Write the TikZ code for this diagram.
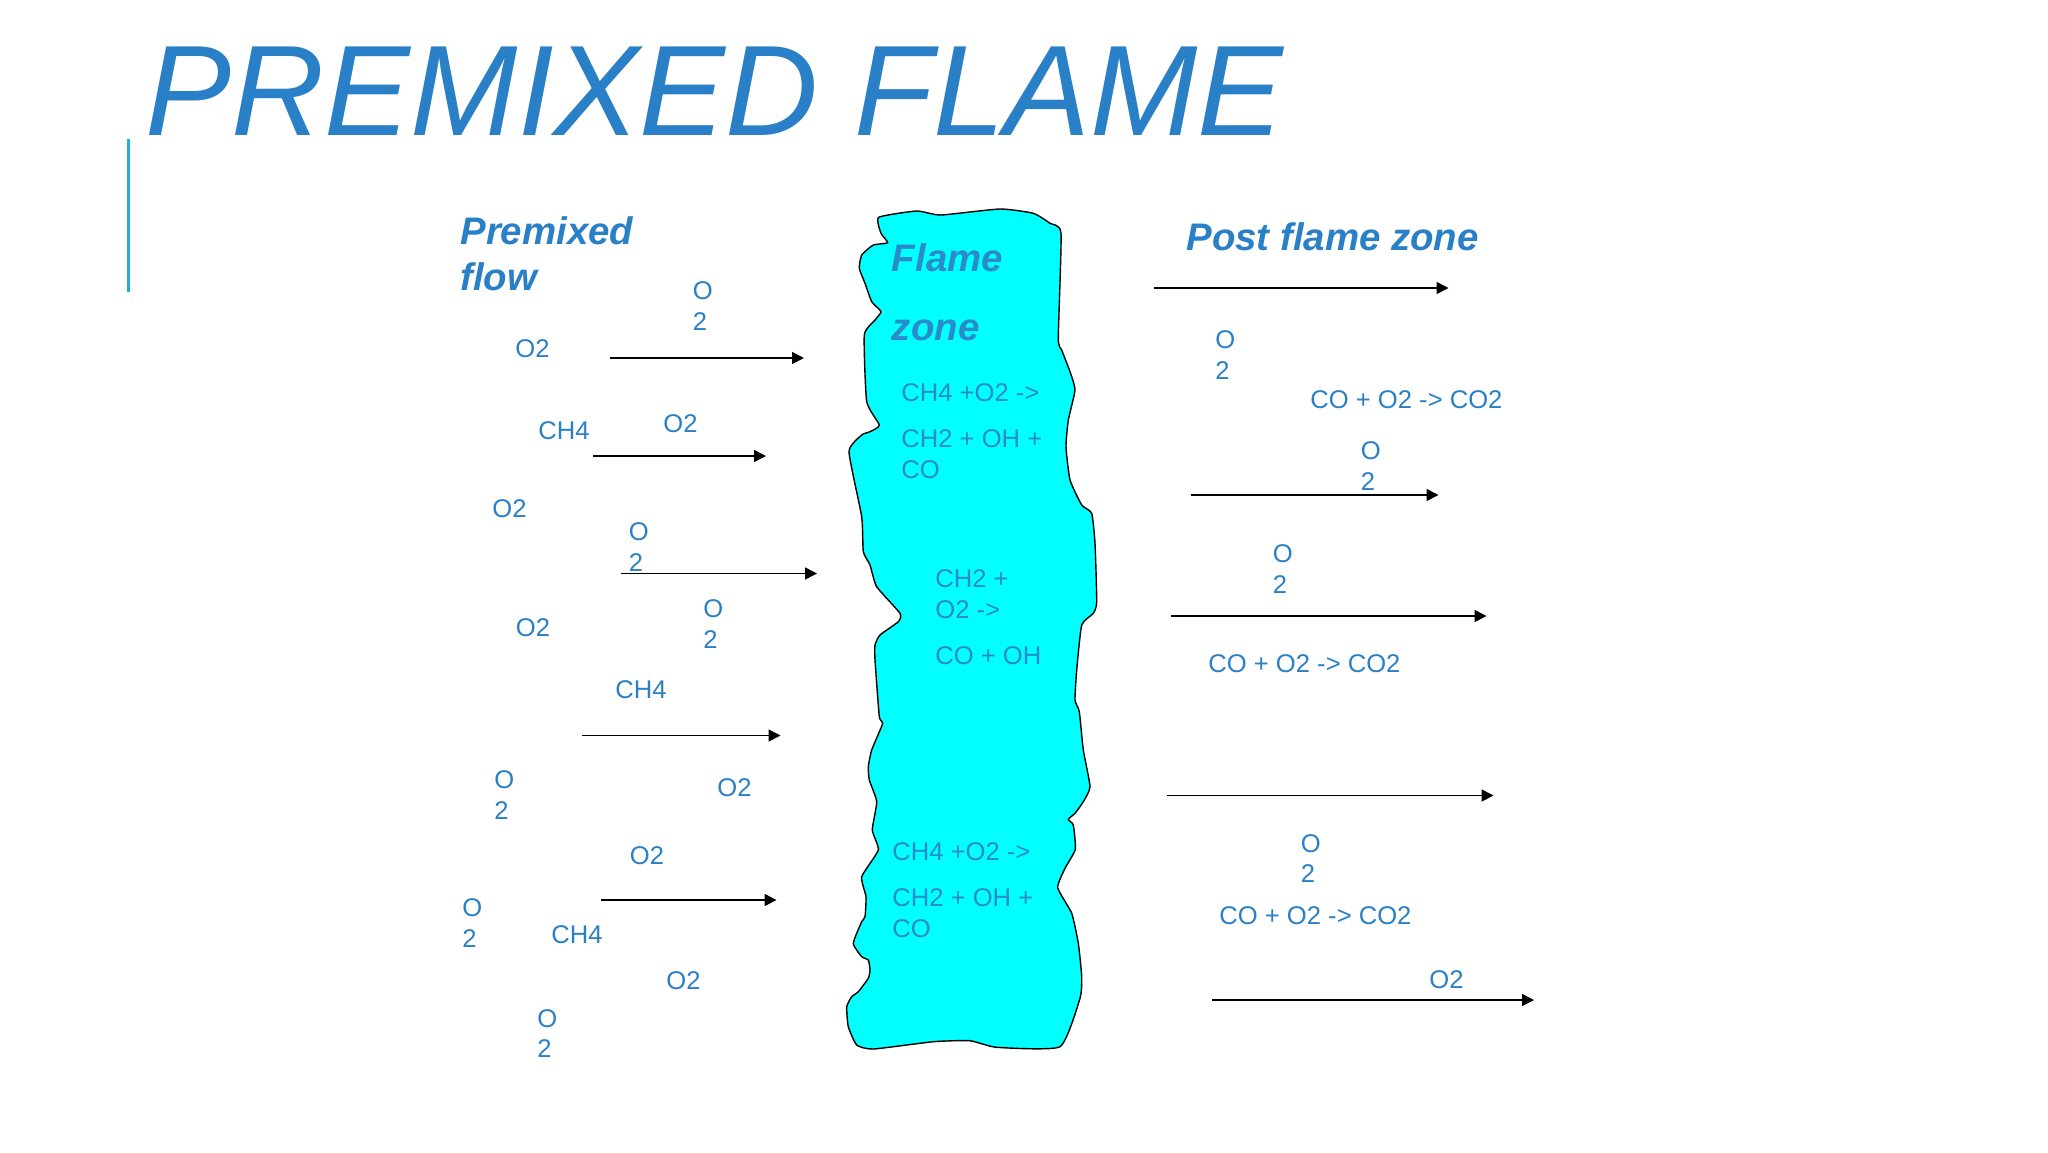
\documentclass[tikz,border=0pt]{standalone}
\usepackage{fontspec}
\setmainfont{Liberation Sans}
\usetikzlibrary{arrows.meta}
\definecolor{slideblue}{HTML}{2A80C6}
\definecolor{flameblue}{HTML}{2A8ACA}
\definecolor{barblue}{HTML}{1CADE4}
\definecolor{flamecyan}{HTML}{00FFFF}
\tikzset{
	lbl/.style={anchor=west, inner sep=0pt, align=left, text=slideblue, font=\fontsize{12.8}{15.3}\selectfont},
	inflame/.style={lbl, text=flameblue},
	head/.style={lbl, font=\fontsize{19.2}{23}\selectfont\bfseries\itshape},
	flow/.style={-{Triangle[length=6pt,width=6pt]}, line width=0.8pt}
}
\begin{document}
\begin{tikzpicture}[x=0.5pt,y=-0.5pt]
	\useasboundingbox (0,0) rectangle (2048,1152);
	\node[anchor=base west, inner sep=0pt, text=slideblue, font=\fontsize{64.4}{70}\selectfont\itshape] (title) at (145.5,135) {PREMIXED FLAME};
	\coordinate (bartop) at (128,139);
	\coordinate (barbot) at (128,292);
	\draw[barblue, line width=1.5pt] (bartop)--(barbot);
	
	% flame front
	\draw[fill=flamecyan, line width=0.7pt, line join=round] plot[smooth cycle, tension=0.3] coordinates {
		(878.7,217.3) (916.7,211) (940.7,215) (1000,209) (1033.3,213.3) (1050,223.3) (1061,233.3)
		(1058.3,338.3) (1061.7,350) (1070,371.7) (1075,390) (1068.3,420) (1066,446.7) (1070,480)
		(1081.7,505) (1091.7,513.3) (1095,543.3) (1096.7,601.7) (1093.3,613.3) (1081.7,625) (1076.7,670)
		(1075,700) (1079.3,711.7) (1083.3,750) (1090,786.7) (1083.3,801.7) (1075,813.3) (1068.3,819.3)
		(1073.3,825) (1075.3,849.3) (1065,868.3) (1057.7,887.7) (1071.7,913.3) (1078.3,943.3)
		(1081.7,976.7) (1080,998.3) (1060,1046.7) (996.7,1047.3) (970,1040.7) (933.3,1041.7)
		(873.3,1049) (856.7,1045) (848.3,1026.7) (846.7,1006.7) (851.7,996.7) (858.3,991.7) (868.3,978.3)
		(870,970) (868.3,960) (861.7,956.7) (853.3,943.3) (861.7,921.7) (865,916.7) (866,896.7)
		(861.7,876.7) (878.3,850) (872.3,830) (876.7,801.7) (869.3,780) (868.3,766.7) (871.7,750)
		(882.7,723.3) (879.3,716.7) (875,660) (875,645) (880,635) (898.3,621.7) (900,613.3) (876.7,586.7)
		(870,565) (863.3,551.7) (861.7,516.7) (849,451.7) (861.7,435) (870,431.7) (879.3,425) (866.7,401.7)
		(864.3,335) (875,320) (881,311.7) (871.7,301.7) (865,283.3) (859.3,268.3) (861.7,255) (873.3,245)
		(887.7,242.7) (881,233.3)};
	
	\node[head] (premixed) at (460,253.5) {Premixed\\flow};
	\node[head] (post) at (1186,237) {Post flame zone};
	\node[head, text=flameblue, font=\fontsize{19.2}{34.5}\selectfont\bfseries\itshape] (flamezone) at (891.5,292.5) {Flame\\zone};
	
	\node[inflame] (reactone) at (901,393) {CH4 +O2 ->};
	\node[inflame] (prodone) at (901,454) {CH2 + OH +\\CO};
	\node[inflame] (reacttwo) at (935,594) {CH2 +\\O2 ->};
	\node[inflame] (prodtwo) at (935,656) {CO + OH};
	\node[inflame] (reactthree) at (892,852) {CH4 +O2 ->};
	\node[inflame] (prodthree) at (892,913) {CH2 + OH +\\CO};
	
	\foreach \n/\x/\y in {a/515/349,b/663/423.5,c/492/508.5,d/515.5/628,e/717/788,f/629.5/855.5,g/666/981,h/1429/980}
		\node[lbl] (otwo\n) at (\x,\y) {O2};
	\foreach \n/\x/\y in {a/692.5/306,b/628.5/547,c/703/624,d/494/795,e/462/923,f/537/1033.5,g/1215/355,h/1360.5/466,i/1272.5/569,j/1300.5/858.5}
		\node[lbl] (obroken\n) at (\x,\y) {O\\2};
	\foreach \n/\x/\y in {a/538/431,b/615/690,c/551/935}
		\node[lbl] (ch\n) at (\x,\y) {CH4};
	\foreach \n/\x/\y in {a/1310/400,b/1208/663.5,c/1219/916}
		\node[lbl] (burn\n) at (\x,\y) {CO + O2 -> CO2};
	
	\foreach \n/\xa/\xb/\y in {a/610/804/358,b/593/766/456,c/620.5/817/573.5,d/582/780.5/735.5,e/601/776.5/900,f/1154/1448.5/288,g/1190.5/1438.5/495,h/1171/1486.5/616,i/1167/1493.5/795.5,j/1212/1534/1000}{
		\coordinate (from\n) at (\xa,\y);
		\coordinate (to\n) at (\xb,\y);
		\draw[flow] (from\n)--(to\n);
	}
\end{tikzpicture}
\end{document}
